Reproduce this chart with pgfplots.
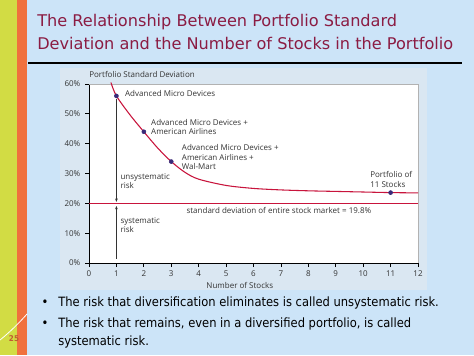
\documentclass[border=0pt]{standalone}
\usepackage{pgfplots}
\pgfplotsset{compat=1.18}
\usepackage{fontspec}
\usetikzlibrary{arrows.meta}
\setmainfont{DejaVu Sans Condensed}
\newfontfamily\titlefont{DejaVu Sans}
\newfontfamily\chartfont{Open Sans}
\definecolor{slidebg}{HTML}{CCE4F8}
\definecolor{panelbg}{HTML}{DAE7F2}
\definecolor{strip1}{HTML}{D2DC44}
\definecolor{strip2}{HTML}{F0713D}
\definecolor{titlecol}{HTML}{8B1C43}
\definecolor{curvecol}{HTML}{C8143C}
\definecolor{dotcol}{HTML}{3A2A78}
\definecolor{txtcol}{HTML}{333333}
\begin{document}
\begin{tikzpicture}
\fill[slidebg] (0,0) rectangle (355.5pt,266.25pt);
\useasboundingbox (0,0) rectangle (355.5pt,266.25pt);
\begin{scope}[x=0.75pt,y=-0.75pt,yshift=266.25pt]
  \fill[strip1] (0,0) rectangle (17,355);
  \fill[strip2] (17,0) rectangle (27,355);
  \draw[white, line width=0.6pt] (0,340) .. controls (10,332) and (20,322) .. (27,314);
  \node[font=\bfseries\fontsize{6}{7}\selectfont, text=strip2!80!black] at (14,339) {25};
  \fill[panelbg] (60,68) rectangle (427,290);
  \draw[black, line width=1.5pt] (28,63) -- (462,63);
  \node[anchor=base west, text=titlecol, font=\titlefont\fontsize{12.1}{14}\selectfont, inner sep=0] at (37,26.7) {The Relationship Between Portfolio Standard};
  \node[anchor=base west, text=titlecol, font=\titlefont\fontsize{12.1}{14}\selectfont, inner sep=0] at (37,49.3) {Deviation and the Number of Stocks in the Portfolio};
  \node[anchor=base, font=\fontsize{9.6}{11}\selectfont, inner sep=0] at (45,306.7) {\textbullet};
  \node[anchor=base, font=\fontsize{9.6}{11}\selectfont, inner sep=0] at (45,327.3) {\textbullet};
  \node[anchor=base west, font=\fontsize{9.6}{11}\selectfont, inner sep=0] at (58,306.7) {The risk that diversification eliminates is called unsystematic risk.};
  \node[anchor=base west, font=\fontsize{9.6}{11}\selectfont, inner sep=0] at (58,327.3) {The risk that remains, even in a diversified portfolio, is called};
  \node[anchor=base west, font=\fontsize{9.6}{11}\selectfont, inner sep=0] at (58,345.7) {systematic risk.};
\end{scope}
\begin{axis}[
  at={(66.75pt,69pt)}, anchor=south west,
  scale only axis, width=246.75pt, height=134.25pt,
  xmin=0, xmax=12, ymin=0, ymax=60,
  axis x line*=bottom, axis y line*=left,
  axis line style={-, black, line width=0.7pt},
  axis background/.style={fill=white},
  xtick={0,1,...,12}, ytick={0,10,...,60},
  /pgf/number format/assume math mode=true,
  yticklabel={\pgfmathprintnumber{\tick}\%},
  tick align=outside, major tick length=3pt,
  tick style={black, line width=0.6pt},
  tick label style={font=\chartfont\fontsize{6}{7}\selectfont, text=txtcol},
  xticklabel style={yshift=1pt},
  clip=false,
]
\draw[gray!60, line width=0.6pt] (axis cs:0,60) -- (axis cs:12,60) -- (axis cs:12,0);
\addplot[curvecol, line width=0.8pt] coordinates {(0,19.8) (12,19.8)};
\addplot[curvecol, line width=0.8pt, smooth] coordinates {
  (0.8,60.5) (1,56) (1.5,49.6) (2,44) (2.5,38.6) (3,34) (3.5,30.4) (4,28.1)
  (5,26.0) (6,25.0) (7,24.5) (8,24.2) (9,24.0) (10,23.8) (11,23.6) (12,23.5)};
\addplot[only marks, mark=*, mark size=1.5pt, dotcol] coordinates {(1,56) (2,44) (3,34) (11,23.6)};
\draw[txtcol, line width=0.6pt, -{Stealth[length=2.5pt,width=2pt]}] (axis cs:1,55) -- (axis cs:1,20.5);
\draw[txtcol, line width=0.6pt, {Stealth[length=2.5pt,width=2pt]}-] (axis cs:1,19.1) -- (axis cs:1,1.5);
\begin{scope}[every node/.style={font=\chartfont\fontsize{6}{7}\selectfont, text=txtcol, align=left, inner sep=0}]
\node[anchor=west] at (axis cs:1.31,56.7) {Advanced Micro Devices};
\node[anchor=west] at (axis cs:2.26,45.5) {Advanced Micro Devices +\\American Airlines};
\node[anchor=west] at (axis cs:3.38,35.5) {Advanced Micro Devices +\\American Airlines +\\Wal-Mart};
\node[anchor=west] at (axis cs:1.14,27.5) {unsystematic\\risk};
\node[anchor=west] at (axis cs:1.14,12.7) {systematic\\risk};
\node[anchor=west] at (axis cs:3.55,17.6) {standard deviation of entire stock market = 19.8\%};
\node[anchor=west] at (axis cs:10.25,28.0) {Portfolio of\\11 Stocks};
\node[anchor=west] at (axis cs:0,63.2) {Portfolio Standard Deviation};
\node at (axis cs:5.5,-7.4) {Number of Stocks};
\end{scope}
\end{axis}
\end{tikzpicture}
\end{document}
